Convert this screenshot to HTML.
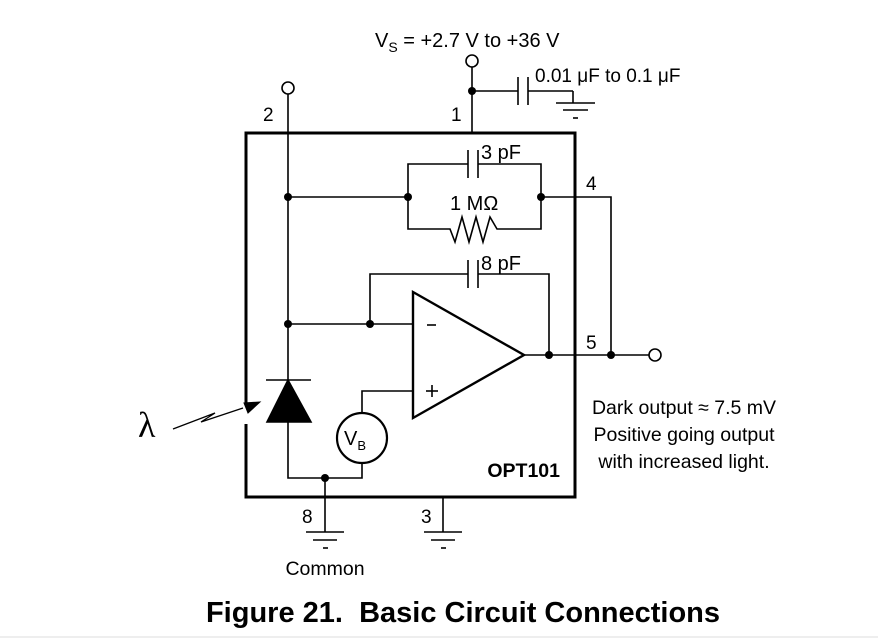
<!DOCTYPE html>
<html><head><style>
html,body{margin:0;padding:0;background:#fff;}
svg{display:block;}
text{font-family:"Liberation Sans",sans-serif;fill:#000;}
</style></head><body>
<svg width="878" height="638" viewBox="0 0 878 638" xmlns="http://www.w3.org/2000/svg">
<g stroke="#000" fill="none" stroke-width="1.6">
<path d="M246 404 V133 H575 V497 H246 V424" stroke-width="3"/>
<line x1="288" y1="94" x2="288" y2="380"/>
<circle cx="288" cy="88" r="6" fill="#fff"/>
<line x1="472" y1="67" x2="472" y2="133"/>
<circle cx="472" cy="61" r="6" fill="#fff"/>
<line x1="472" y1="91" x2="518" y2="91"/>
<line x1="518" y1="77" x2="518" y2="105"/>
<line x1="528" y1="77" x2="528" y2="105"/>
<line x1="528" y1="91" x2="573" y2="91"/>
<line x1="573" y1="91" x2="573" y2="103"/>
<line x1="556" y1="103" x2="595" y2="103"/>
<line x1="563" y1="110" x2="588" y2="110"/>
<line x1="573" y1="118" x2="578" y2="118"/>
<line x1="288" y1="197" x2="408" y2="197"/>
<path d="M408 197 V164 H468 M478 164 H541 V197"/>
<line x1="468" y1="150" x2="468" y2="178"/>
<line x1="478" y1="150" x2="478" y2="178"/>
<path d="M408 197 V229 H450 L455 242 L462 217 L469 242 L476 217 L483 242 L490 217 L497 229 H541 V197"/>
<path d="M541 197 H611 V355"/>
<line x1="288" y1="324" x2="413" y2="324"/>
<path d="M370 324 V274 H468 M478 274 H549 V355"/>
<line x1="468" y1="260" x2="468" y2="288"/>
<line x1="478" y1="260" x2="478" y2="288"/>
<path d="M413 292 L524 355 L413 418 Z" stroke-width="2.4"/>
<line x1="524" y1="355" x2="649" y2="355"/>
<circle cx="655" cy="355" r="6" fill="#fff"/>
<line x1="427" y1="325" x2="436" y2="325"/>
<line x1="426" y1="391" x2="438" y2="391"/>
<line x1="432" y1="385" x2="432" y2="397"/>
<line x1="266" y1="380" x2="311" y2="380"/>
<path d="M288 380 L311 422 L267 422 Z" fill="#000"/>
<path d="M288 422 V478 H362 V463"/>
<circle cx="362" cy="438" r="25" stroke-width="2.2"/>
<path d="M362 413 V391 H413"/>
<line x1="325" y1="478" x2="325" y2="532"/>
<line x1="306" y1="532" x2="344" y2="532"/>
<line x1="313" y1="540" x2="337" y2="540"/>
<line x1="323" y1="548" x2="328" y2="548"/>
<line x1="443" y1="497" x2="443" y2="532"/>
<line x1="424" y1="532" x2="462" y2="532"/>
<line x1="431" y1="540" x2="455" y2="540"/>
<line x1="441" y1="548" x2="446" y2="548"/>
<path d="M173 429 L215 413 L201 422 L243 408" stroke-width="1.3"/>
<path d="M260 402 L244 403 L248 413 Z" fill="#000" stroke-width="1"/>
</g>
<g fill="#000">
<circle cx="472" cy="91" r="4"/>
<circle cx="288" cy="197" r="4"/>
<circle cx="408" cy="197" r="4"/>
<circle cx="541" cy="197" r="4"/>
<circle cx="288" cy="324" r="4"/>
<circle cx="370" cy="324" r="4"/>
<circle cx="549" cy="355" r="4"/>
<circle cx="611" cy="355" r="4"/>
<circle cx="325" cy="478" r="4"/>
</g>
<text x="375" y="47" font-size="20">V<tspan font-size="14" dy="5">S</tspan><tspan dy="-5"> = +2.7 V to +36 V</tspan></text>
<text x="535" y="82" font-size="19">0.01 μF to 0.1 μF</text>
<text x="263" y="121" font-size="19">2</text>
<text x="451" y="121" font-size="19">1</text>
<text x="481" y="159" font-size="20">3 pF</text>
<text x="450" y="210" font-size="20">1 MΩ</text>
<text x="586" y="190" font-size="19">4</text>
<text x="481" y="270" font-size="20">8 pF</text>
<text x="586" y="349" font-size="19">5</text>
<text x="344" y="445" font-size="20">V<tspan font-size="13" dy="5">B</tspan></text>
<text x="560" y="477" font-size="19.5" font-weight="bold" text-anchor="end">OPT101</text>
<text x="302" y="523" font-size="19">8</text>
<text x="421" y="523" font-size="19">3</text>
<text x="325" y="575" font-size="19.5" text-anchor="middle">Common</text>
<text x="138" y="437" font-size="36" style="font-family:'Liberation Serif',serif">λ</text>
<text x="684" y="414" font-size="19.5" text-anchor="middle">Dark output ≈ 7.5 mV</text>
<text x="684" y="441" font-size="19.5" text-anchor="middle">Positive going output</text>
<text x="684" y="468" font-size="19.5" text-anchor="middle">with increased light.</text>
<text x="463" y="622" font-size="29" font-weight="bold" text-anchor="middle" xml:space="preserve">Figure 21.  Basic Circuit Connections</text>
<line x1="0" y1="637" x2="878" y2="637" stroke="#ddd" stroke-width="1"/>
</svg>
</body></html>
